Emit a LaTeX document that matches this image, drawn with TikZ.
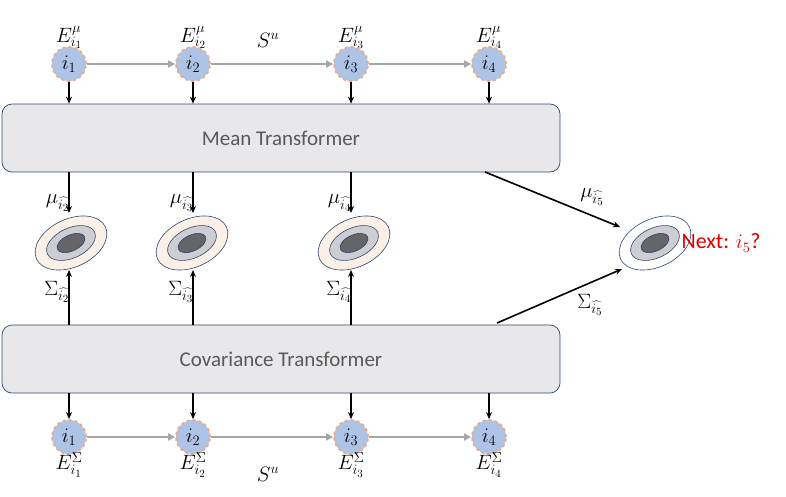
\documentclass[tikz,border=0pt]{standalone}
\usepackage{fontspec}
\setmainfont{Carlito}
\usetikzlibrary{arrows.meta,positioning}
\definecolor{itemfill}{RGB}{174,196,230}
\definecolor{itemborder}{RGB}{240,170,130}
\definecolor{boxfill}{RGB}{232,232,235}
\definecolor{boxborder}{RGB}{50,70,110}
\definecolor{ellout}{RGB}{250,240,230}
\definecolor{ellmid}{RGB}{205,205,210}
\definecolor{ellin}{RGB}{100,100,105}
\tikzset{
 item/.style={circle,fill=itemfill,draw=itemborder,dashed,line width=1.8pt,minimum size=34pt,inner sep=0pt,font=\fontsize{22}{26}\selectfont},
 tbox/.style={rounded corners=10pt,fill=boxfill,draw=boxborder,line width=0.7pt,minimum width=558pt,minimum height=68pt,font=\fontsize{21}{25}\selectfont,text=black!65},
 seq/.style={-{Triangle[length=7pt,width=7pt]},draw=black!35,line width=1.8pt},
 arr/.style={-{Stealth[length=7pt,width=6pt]},line width=1.6pt},
 lab/.style={font=\fontsize{22}{26}\selectfont},
}
\newcommand{\gauss}[3]{%
 \begin{scope}[shift={(#1,#2)},rotate=25]
 \draw[boxborder,fill=#3,line width=0.6pt] (0,0) ellipse (38pt and 24pt);
 \draw[boxborder,fill=ellmid,line width=0.6pt] (0,0) ellipse (26pt and 15pt);
 \draw[boxborder,fill=ellin,line width=0.6pt] (0,0) ellipse (15pt and 8pt);
 \end{scope}}
\begin{document}
\begin{tikzpicture}[x=1pt,y=-1pt]
\useasboundingbox (0,0) rectangle (786,496);
\node[tbox] (mean) at (281,138) {Mean Transformer};
\node[tbox] (cov) at (281,359) {Covariance Transformer};
\foreach \n/\x in {1/69,2/193,3/351,4/489}{
 \node[item] (t\n) at (\x,64) {$i_{\n}$};
 \node[lab,above=-6pt of t\n] {$E^{\mu}_{i_{\n}}$};
 \node[item] (b\n) at (\x,437) {$i_{\n}$};
 \node[lab,below=-6pt of b\n] {$E^{\Sigma}_{i_{\n}}$};
 \draw[arr] (t\n.south) -- (t\n.south|-mean.north);
 \draw[arr] (b\n.north|-cov.south) -- (b\n.north);
}
\draw[seq] (t1) -- (t2); \draw[seq] (t2) -- (t3); \draw[seq] (t3) -- (t4);
\draw[seq] (b1) -- (b2); \draw[seq] (b2) -- (b3); \draw[seq] (b3) -- (b4);
\node[lab] (su1) at (268,40) {$S^u$};
\node[lab] (su2) at (268,474) {$S^u$};
\gauss{71}{243}{ellout}
\gauss{192}{243}{ellout}
\gauss{354}{243}{ellout}
\gauss{655}{243}{white}
\foreach \n/\x/\nn in {1/69/2,2/193/3,3/351/4}{
 \coordinate (m\n) at (\x,213);
 \coordinate (s\n) at (\x,270);
 \draw[arr] (m\n|-mean.south) -- (m\n);
 \draw[arr] (s\n|-cov.north) -- (s\n);
 \node[lab,anchor=east] at (\x+4,203) {$\mu_{\widehat{i_{\nn}}}$};
 \node[lab,anchor=east] at (\x+4,292) {$\Sigma_{\widehat{i_{\nn}}}$};
}
\coordinate (mfrom) at (485,172);
\coordinate (mto) at (620,227);
\coordinate (sfrom) at (497,323);
\coordinate (sto) at (622,269);
\draw[arr] (mfrom) -- (mto);
\draw[arr] (sfrom) -- (sto);
\node[lab] at (592,197) {$\mu_{\widehat{i_5}}$};
\node[lab] at (590,305) {$\Sigma_{\widehat{i_5}}$};
\node[lab,text=red!85!black,anchor=west] at (678,243) {Next: $i_5$?};
\end{tikzpicture}
\end{document}
